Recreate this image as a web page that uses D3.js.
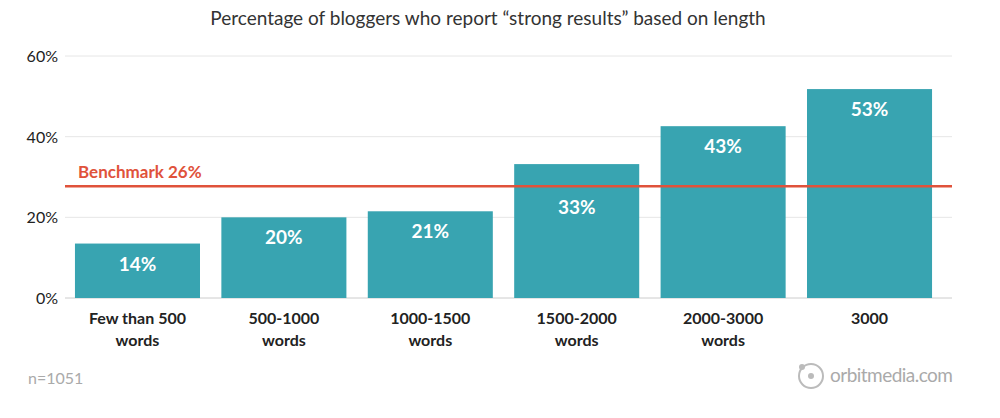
<!DOCTYPE html>
<html><head><meta charset="utf-8">
<script src="https://cdn.jsdelivr.net/npm/d3@7"></script>
<style>body{margin:0;background:#fff;font-family:Lato,"Open Sans",sans-serif}</style>
</head><body><div id="chart"></div>
<script>
// values
const categories = [["Few than 500", "words"], ["500-1000", "words"], ["1000-1500", "words"], ["1500-2000", "words"], ["2000-3000", "words"], ["3000"]];
const values = [13.5, 20, 21.5, 33.2, 42.6, 51.8];
const labels = ["14%", "20%", "21%", "33%", "43%", "53%"];
const yTicks = [0, 20, 40, 60];
const benchmark = 27.7;
const benchmarkLabel = "Benchmark 26%";

const width = 1000, height = 418;
const svg = d3.select("#chart").append("svg").attr("width", width).attr("height", height);

const x = d3.scaleBand().domain(d3.range(categories.length)).range([65, 942]).paddingInner(0.146).paddingOuter(0.068);
const y = d3.scaleLinear().domain([0, 60]).range([298, 56]);

svg.append("text").attr("x", 488).attr("y", 25).attr("text-anchor", "middle")
  .attr("font-size", 19).attr("fill", "#333")
  .text("Percentage of bloggers who report \u201cstrong results\u201d based on length");

// gridlines + y labels
yTicks.forEach(t => {
  svg.append("line").attr("x1", 65).attr("x2", 952).attr("y1", y(t)).attr("y2", y(t))
    .attr("stroke", t === 0 ? "#ccc" : "#e6e6e6");
  svg.append("text").attr("x", 58).attr("y", y(t) + 6).attr("text-anchor", "end")
    .attr("font-size", 16).attr("fill", "#222").text(t + "%");
});

svg.selectAll("rect.bar").data(values).enter().append("rect")
  .attr("x", (d, i) => x(i)).attr("width", x.bandwidth())
  .attr("y", d => y(d)).attr("height", d => y(0) - y(d)).attr("fill", "#38a4b1");

// labels sit inside the bar top, but below the benchmark line when it crosses the label
svg.selectAll("text.val").data(values).enter().append("text")
  .attr("x", (d, i) => x(i) + x.bandwidth() / 2)
  .attr("y", d => (d > benchmark && d - benchmark < 8 ? y(benchmark) + 28 : y(d) + 27))
  .attr("text-anchor", "middle").attr("font-size", 19).attr("font-weight", "bold")
  .attr("fill", "#fff").text((d, i) => labels[i]);

categories.forEach((c, i) => {
  c.forEach((line, j) => {
    svg.append("text").attr("x", x(i) + x.bandwidth() / 2).attr("y", 324 + j * 22)
      .attr("text-anchor", "middle").attr("font-size", 16).attr("font-weight", "bold")
      .attr("fill", "#222").text(line);
  });
});

svg.append("line").attr("x1", 65).attr("x2", 952).attr("y1", y(benchmark)).attr("y2", y(benchmark))
  .attr("stroke", "#e0523b").attr("stroke-width", 2.5);
svg.append("text").attr("x", 78).attr("y", y(benchmark) - 8).attr("font-size", 17)
  .attr("font-weight", "bold").attr("fill", "#e0523b").text(benchmarkLabel);

svg.append("text").attr("x", 28).attr("y", 384).attr("font-size", 16).attr("fill", "#aaa").text("n=1051");

// logo
const g = svg.append("g").attr("transform", "translate(811,376)");
g.append("circle").attr("r", 12).attr("fill", "none").attr("stroke", "#bbb").attr("stroke-width", 2);
g.append("circle").attr("r", 3).attr("fill", "#bbb");
g.append("circle").attr("cx", -9).attr("cy", -9).attr("r", 3).attr("fill", "#bbb");
svg.append("text").attr("x", 830).attr("y", 382).attr("textLength", 123).attr("font-size", 19)
  .attr("fill", "#aaa").text("orbitmedia.com");
</script></body></html>
